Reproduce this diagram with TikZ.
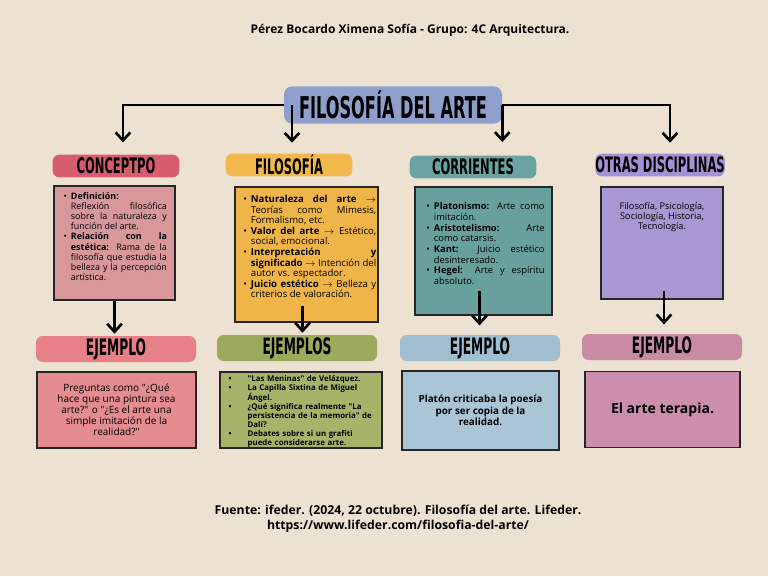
\documentclass[tikz,border=0pt]{standalone}
\usepackage{fontspec}
\setmainfont{Open Sans}
\newfontfamily\headfont[FakeStretch=0.6]{DejaVu Sans Condensed}
\usepackage{enumitem}
\setlist[itemize]{nosep, leftmargin=8pt, labelsep=3pt, label=\textbullet}
\usetikzlibrary{arrows.meta, positioning, calc}
\hyphenpenalty=10000
\exhyphenpenalty=10000
\tolerance=9999
\newcommand{\qq}{\textquotedbl}

\definecolor{paper}{HTML}{EDE1D1}
\definecolor{mainblue}{HTML}{8E9FCB}
\definecolor{conceptpill}{HTML}{D75C6E}
\definecolor{conceptcard}{HTML}{D8979A}
\definecolor{filopill}{HTML}{F2B84B}
\definecolor{filocard}{HTML}{F0B548}
\definecolor{corrpill}{HTML}{6AA3A1}
\definecolor{corrcard}{HTML}{68A09D}
\definecolor{otraspill}{HTML}{A691D6}
\definecolor{otrascard}{HTML}{A897D3}
\definecolor{ejpinkpill}{HTML}{E88088}
\definecolor{ejpinkcard}{HTML}{E58C91}
\definecolor{ejgreenpill}{HTML}{9BAA5C}
\definecolor{ejgreencard}{HTML}{A6B46A}
\definecolor{ejbluepill}{HTML}{9FBFD1}
\definecolor{ejbluecard}{HTML}{A9C5D6}
\definecolor{ejmauvepill}{HTML}{C98AA3}
\definecolor{ejmauvecard}{HTML}{CB8EAC}

\begin{document}
\begin{tikzpicture}[x=0.75pt, y=-0.75pt,
    pill/.style={rounded corners=5pt, inner sep=0pt, minimum height=17pt, minimum width=95pt,
        font=\headfont\bfseries\fontsize{16}{16}\selectfont},
    ejpill/.style={pill, minimum width=120pt, minimum height=19.5pt,
        font=\headfont\bfseries\fontsize{17}{17}\selectfont},
    card/.style={draw=black!85, line width=1.3pt, inner sep=0pt},
    txt/.style={inner sep=0pt, align=justify, font=\fontsize{7}{7.8}\selectfont},
    arr/.style={-{Straight Barb[length=6pt, width=11pt]}, line width=2pt},
]
    \useasboundingbox[fill=paper] (0,0) rectangle (768,576);

    % Header and source
    \node[font=\bfseries\fontsize{9}{10}\selectfont] (author) at (410,30) {P\'erez Bocardo Ximena Sof\'ia - Grupo: 4C Arquitectura.};
    \node[font=\bfseries\fontsize{9.2}{11}\selectfont, align=center] (source) at (398,519) {Fuente: ifeder. (2024, 22 octubre). Filosof\'ia del arte. Lifeder.\\https://www.lifeder.com/filosofia-del-arte/};

    % Central title
    \node[rounded corners=6pt, fill=mainblue, minimum width=163.5pt, minimum height=27pt,
        font=\headfont\bfseries\fontsize{22.5}{22.5}\selectfont] (main) at (393,105) {FILOSOF\'IA DEL ARTE};

    % Category headers
    \node[pill, fill=conceptpill] (concepto) at (116,166) {CONCEPTPO};
    \node[pill, fill=filopill] (filosofia) at (289,165) {FILOSOF\'IA};
    \node[pill, fill=corrpill] (corrientes) at (473,167) {CORRIENTES};
    \node[pill, fill=otraspill, minimum width=96pt] (otras) at (660,165) {OTRAS DISCIPLINAS};

    % Category cards
    \node[card, fill=conceptcard, minimum width=91pt, minimum height=85.5pt] (concCard) at (114.5,243) {};
    \node[card, fill=filocard, minimum width=107pt, minimum height=101pt] (filoCard) at (306.5,254.5) {};
    \node[card, fill=corrcard, minimum width=103pt, minimum height=96pt] (corrCard) at (483.5,251) {};
    \node[card, fill=otrascard, minimum width=91.5pt, minimum height=84pt] (otrasCard) at (662,243) {};

    \node[txt, text width=80pt, anchor=north west, font=\fontsize{6.7}{7.6}\selectfont] (concText) at (60,189) {%
        \begin{itemize}
        \item \textbf{Definici\'on:}\newline Reflexi\'on filos\'ofica sobre la naturaleza y funci\'on del arte.
        \item \textbf{Relaci\'on con la est\'etica:} Rama de la filosof\'ia que estudia la belleza y la percepci\'on art\'istica.
        \end{itemize}};
    \node[txt, text width=102pt, anchor=north west, font=\fontsize{7.2}{7.9}\selectfont] (filoText) at (240,192) {%
        \begin{itemize}
        \item \textbf{Naturaleza del arte} $\rightarrow$ Teor\'ias como Mimesis, Formalismo, etc.
        \item \textbf{Valor del arte} $\rightarrow$ Est\'etico, social, emocional.
        \item \textbf{Interpretaci\'on y significado} $\rightarrow$ Intenci\'on del autor vs. espectador.
        \item \textbf{Juicio est\'etico} $\rightarrow$ Belleza y criterios de valoraci\'on.
        \end{itemize}};
    \node[txt, text width=91pt, anchor=north west, font=\fontsize{7}{8}\selectfont] (corrText) at (423,199) {%
        \begin{itemize}
        \item \textbf{Platonismo:} Arte como imitaci\'on.
        \item \textbf{Aristotelismo:} Arte como catarsis.
        \item \textbf{Kant:} Juicio est\'etico desinteresado.
        \item \textbf{Hegel:} Arte y esp\'iritu absoluto.
        \end{itemize}};
    \node[inner sep=0pt, align=center, anchor=north, font=\fontsize{6.9}{7.6}\selectfont] (otrasText) at (662,202)
        {Filosof\'ia, Psicolog\'ia,\\Sociolog\'ia, Historia,\\Tecnolog\'ia.};

    % Example headers
    \node[ejpill, fill=ejpinkpill] (ejConc) at (116,349) {EJEMPLO};
    \node[ejpill, fill=ejgreenpill] (ejFilo) at (297,348) {EJEMPLOS};
    \node[ejpill, fill=ejbluepill] (ejCorr) at (480,348) {EJEMPLO};
    \node[ejpill, fill=ejmauvepill] (ejOtras) at (662,347) {EJEMPLO};

    % Example cards
    \node[card, fill=ejpinkcard, minimum width=119pt, minimum height=57pt, align=center,
        font=\fontsize{7.5}{8.3}\selectfont] (exConc) at (116.5,410)
        {Preguntas como \qq¿Qu\'e\\hace que una pintura sea\\arte?\qq{} o \qq¿Es el arte una\\simple imitaci\'on de la\\realidad?\qq};
    \node[card, fill=ejgreencard, minimum width=121.5pt, minimum height=57pt] (exFilo) at (301,410) {};
    \node[txt, text width=114pt, align=center, font=\bfseries\fontsize{5.9}{6.7}\selectfont] (exFiloText) at (exFilo) {%
        \begin{itemize}[leftmargin=17pt, labelsep=12pt]
        \item \qq Las Meninas\qq{} de Vel\'azquez.
        \item La Capilla Sixtina de Miguel\\\'Angel.
        \item ¿Qu\'e significa realmente \qq La\\persistencia de la memoria\qq{} de\\Dal\'i?
        \item Debates sobre si un grafiti\\puede considerarse arte.
        \end{itemize}};
    \node[card, fill=ejbluecard, minimum width=118pt, minimum height=59pt, align=center,
        font=\bfseries\fontsize{7.4}{8.7}\selectfont] (exCorr) at (480.5,410.5)
        {Plat\'on criticaba la poes\'ia\\por ser copia de la\\realidad.};
    \node[card, fill=ejmauvecard, minimum width=116pt, minimum height=57pt,
        font=\bfseries\fontsize{10.5}{12}\selectfont] (exOtras) at (662.5,409.5) {El arte terapia.};

    % Arrows from the title
    \draw[arr, shorten >=9pt] (main.west) -| ($(concepto.north)+(7,0)$);
    \draw[arr, shorten >=8pt] ($(filosofia.north |- main.west)+(3,0)$) -- ($(filosofia.north)+(3,0)$);
    \draw[arr, shorten >=10pt] (main.east) -- (main.east |- corrientes.north);
    \draw[arr, shorten >=8pt] (main.east) -| ($(otras.north)+(10,0)$);

    % Arrows to the examples
    \draw[arr, shorten >=1.5pt] (concCard.south) -- (concCard.south |- ejConc.north);
    \draw[arr, shorten >=1.5pt] ($(filoCard.south)+(-4,-17)$) -- ($(filoCard.south |- ejFilo.north)+(-4,0)$);
    \draw[arr, shorten >=7pt] ($(corrCard.south)+(-4,-25)$) -- ($(corrCard.south |- ejCorr.north)+(-4,0)$);
    \draw[arr, shorten >=7pt] ($(otrasCard.south)+(2,-9)$) -- ($(otrasCard.south |- ejOtras.north)+(2,0)$);
\end{tikzpicture}
\end{document}
